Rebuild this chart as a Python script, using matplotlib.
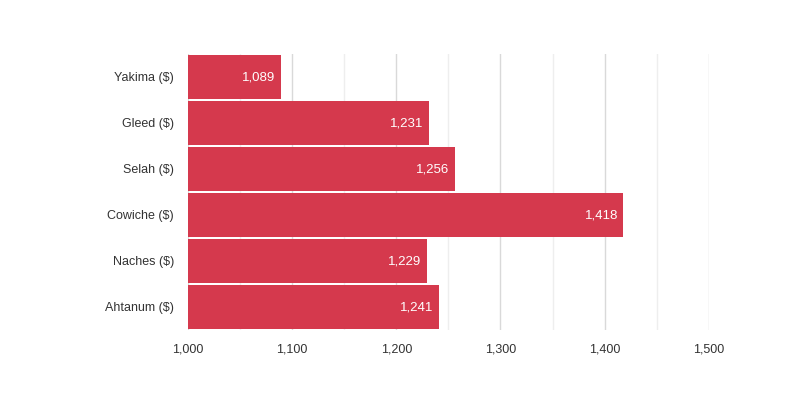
import matplotlib

matplotlib.use("Agg")
import matplotlib.pyplot as plt  # noqa: E402
from matplotlib.ticker import FuncFormatter, MultipleLocator  # noqa: E402

categories = ["Yakima ($)", "Gleed ($)", "Selah ($)", "Cowiche ($)", "Naches ($)", "Ahtanum ($)"]
values = [1089, 1231, 1256, 1418, 1229, 1241]
x_ticks = [1000, 1100, 1200, 1300, 1400, 1500]

plt.rcParams["font.family"] = ["Liberation Sans", "DejaVu Sans"]

fig = plt.figure(figsize=(8, 4), dpi=100)
ax = fig.add_axes([0.235, 0.175, 0.651, 0.69])
ax.set_axisbelow(True)

ypos = list(range(len(categories)))
ax.barh(ypos, [v - 1000 for v in values], left=1000, height=0.96,
        color="#d5394d", zorder=3)

for y, v in zip(ypos, values):
    ax.text(v - 5, y, f"{v:,}", ha="right", va="center", color="white",
            fontsize=9.5, zorder=4)

ax.set_xlim(1000, 1500)
ax.set_ylim(len(categories) - 0.5, -0.5)
ax.set_yticks(ypos)
ax.set_yticklabels(categories)
ax.set_xticks(x_ticks)
ax.xaxis.set_minor_locator(MultipleLocator(50))
ax.xaxis.set_major_formatter(FuncFormatter(lambda x, _: f"{int(x):,}"))

ax.grid(axis="x", which="major", color="#d9d9d9", linewidth=1)
ax.grid(axis="x", which="minor", color="#eeeeee", linewidth=1)
ax.tick_params(axis="both", which="both", length=0, labelsize=9, labelcolor="#333333")
ax.tick_params(axis="x", pad=10)
ax.tick_params(axis="y", pad=10)
for s in ax.spines.values():
    s.set_visible(False)

fig.savefig("out.png", dpi=100)
